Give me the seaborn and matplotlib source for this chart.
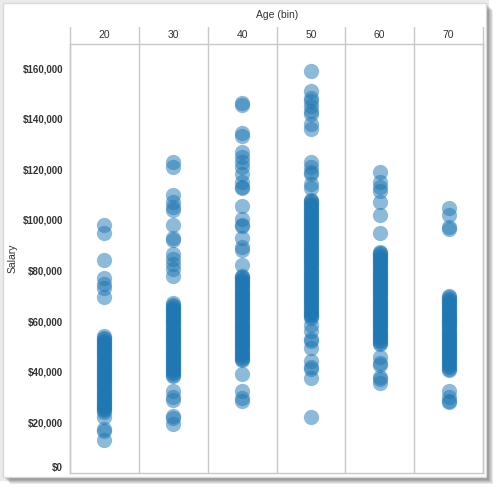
import pandas as pd
import matplotlib.pyplot as plt
import matplotlib.transforms as mtransforms
from matplotlib.patches import Rectangle
from matplotlib.ticker import FuncFormatter
import seaborn as sns

# === Datos (salario en miles de $) ===
age_bins = ["20", "30", "40", "50", "60", "70"]

salary_20 = [98, 95, 84, 77, 74.5, 73, 69.5,
             54.1, 53.5, 52.9, 52.2, 51.7, 51.0, 50.5, 49.8, 49.3, 48.6, 48.1, 47.4,
             46.9, 46.2, 45.7, 45.0, 44.4, 43.9, 43.2, 42.7, 42.0, 41.5, 40.8, 40.3,
             39.6, 39.1, 38.4, 37.9, 37.2, 36.7, 36.0, 35.4, 34.9, 34.2, 33.7, 33.0,
             32.5, 31.8, 31.3, 30.6, 30.1, 29.4, 28.9, 28.2, 27.7, 27.0, 26.4, 25.9,
             25.2, 24.7, 24.0,
             22, 17.5, 16.5, 13]
salary_30 = [122.7, 121, 110, 107, 105, 104, 98, 93, 92, 86.7, 84.5, 82.5, 80.5, 78,
             67.0, 66.4, 65.9, 65.2, 64.7, 64.0, 63.5, 62.8, 62.3, 61.6, 61.1, 60.4,
             59.9, 59.2, 58.7, 58.0, 57.4, 56.9, 56.2, 55.7, 55.0, 54.5, 53.8, 53.3,
             52.6, 52.1, 51.4, 50.9, 50.2, 49.7, 49.0, 48.4, 47.9, 47.2, 46.7, 46.0,
             45.5, 44.8, 44.3, 43.6, 43.1, 42.4, 41.9, 41.2, 40.7, 40.0, 39.4, 38.9,
             38.2,
             32.5, 30, 29, 22.7, 21.8, 19.2]
salary_40 = [146, 145.5, 134.5, 133, 127, 125, 122.7, 120.8, 118, 115, 113, 112.5,
             105.5, 100.4, 98, 97.5, 93, 89.4, 88, 82,
             78.0, 77.4, 76.9, 76.2, 75.7, 75.0, 74.5, 73.8, 73.3, 72.6, 72.1, 71.4,
             70.9, 70.2, 69.7, 69.0, 68.4, 67.9, 67.2, 66.7, 66.0, 65.5, 64.8, 64.3,
             63.6, 63.1, 62.4, 61.9, 61.2, 60.7, 60.0, 59.4, 58.9, 58.2, 57.7, 57.0,
             56.5, 55.8, 55.3, 54.6, 54.1, 53.4, 52.9, 52.2, 51.7, 51.0, 50.4, 49.9,
             49.2, 48.7, 48.0, 47.5, 46.8, 46.3, 45.6, 45.1, 44.5,
             39, 32.5, 29.8, 28.6]
salary_50 = [158.8, 151, 148, 147, 145, 143, 142, 138, 136, 123, 121, 119, 118, 114, 112.5,
             108.0, 107.4, 106.9, 106.2, 105.7, 105.0, 104.5, 103.8, 103.3, 102.6,
             102.1, 101.4, 100.9, 100.2, 99.7, 99.0, 98.4, 97.9, 97.2, 96.7, 96.0,
             95.5, 94.8, 94.3, 93.6, 93.1, 92.4, 91.9, 91.2, 90.7, 90.0, 89.4, 88.9,
             88.2, 87.7, 87.0, 86.5, 85.8, 85.3, 84.6, 84.1, 83.4, 82.9, 82.2, 81.7,
             81.0, 80.4, 79.9, 79.2, 78.7, 78.0, 77.5, 76.8, 76.3, 75.6, 75.1, 74.4,
             73.9, 73.2, 72.7, 72.0, 71.4, 70.9, 70.2, 69.7, 69.0, 68.5, 67.8, 67.3,
             66.6, 66.1, 65.4, 64.9, 64.2, 63.7, 63.0, 62.4, 61.9, 61.2,
             58.4, 56, 53, 52, 49.4, 44.3, 42, 41.2, 37.6, 22]
salary_60 = [119, 115, 113, 111.5, 107, 102, 95,
             87.5, 86.9, 86.4, 85.7, 85.2, 84.5, 84.0, 83.3, 82.8, 82.1, 81.6, 80.9,
             80.4, 79.7, 79.2, 78.5, 77.9, 77.4, 76.7, 76.2, 75.5, 75.0, 74.3, 73.8,
             73.1, 72.6, 71.9, 71.4, 70.7, 70.2, 69.5, 68.9, 68.4, 67.7, 67.2, 66.5,
             66.0, 65.3, 64.8, 64.1, 63.6, 62.9, 62.4, 61.7, 61.2, 60.5, 59.9, 59.4,
             58.7, 58.2, 57.5, 57.0, 56.3, 55.8, 55.1, 54.6, 53.9, 53.4, 52.7, 52.2,
             51.5, 51.0,
             46, 43.5, 42.5, 38, 37.2, 35.7]
salary_70 = [104.7, 102, 97, 96.5,
             70.0, 69.4, 68.9, 68.2, 67.7, 67.0, 66.5, 65.8, 65.3, 64.6, 64.1, 63.4,
             62.9, 62.2, 61.7, 61.0, 60.4, 59.9, 59.2, 58.7, 58.0, 57.5, 56.8, 56.3,
             55.6, 55.1, 54.4, 53.9, 53.2, 52.7, 52.0, 51.4, 50.9, 50.2, 49.7, 49.0,
             48.5, 47.8, 47.3, 46.6, 46.1, 45.4, 44.9, 44.2, 43.7, 43.0, 42.4, 41.9,
             41.2, 40.5,
             32.5, 30, 28.6, 28]

salarios = [salary_20, salary_30, salary_40, salary_50, salary_60, salary_70]
df = pd.DataFrame({
    "Age (bin)": [b for b, vals in zip(age_bins, salarios) for _ in vals],
    "Salary": [v * 1000 for vals in salarios for v in vals],
})

# === Estilo ===
sns.set_style("white")
plt.rcParams["font.family"] = ["Liberation Sans", "DejaVu Sans"]
gris_linea = "#c8c8c8"
texto = "#333333"

fig = plt.figure(figsize=(5, 4.9), dpi=100)
fig.patch.set_facecolor("white")

# marco tipo captura: fondo gris claro, sombra y panel blanco
fig.add_artist(Rectangle((0, 1 - 480 / 490), 488 / 500, 480 / 490,
                         transform=fig.transFigure, color="#ebebeb", zorder=0))
for k in range(1, 8):
    fig.add_artist(Rectangle(((3 + k) / 500, (13 - k) / 490), 483 / 500, 474 / 490,
                             transform=fig.transFigure, color="#555555",
                             alpha=0.13, lw=0, zorder=0))
fig.add_artist(Rectangle((3 / 500, 13 / 490), 483 / 500, 474 / 490,
                         transform=fig.transFigure, facecolor="white",
                         edgecolor="#d9d9d9", lw=1, zorder=0))

ax = fig.add_axes([70 / 500, 1 - 473 / 490, 413 / 500, 429 / 490])
ax.set_facecolor("none")

sns.stripplot(data=df, x="Age (bin)", y="Salary", order=age_bins, jitter=False,
              size=11, color="#1f77b4", alpha=0.5, linewidth=0, ax=ax)

ax.set_xlim(-0.5, 5.5)
ax.set_ylim(0, 169500)
ax.set_xticks([])
ax.set_xlabel("")
ax.set_ylabel("")

ax.set_yticks(range(0, 160001, 20000))
ax.yaxis.set_major_formatter(FuncFormatter(lambda v, p: f"${v:,.0f}"))
ax.tick_params(axis="y", length=3, width=0.8, color=gris_linea, pad=2,
               labelsize=7, labelcolor=texto)
for lab in ax.get_yticklabels():
    lab.set_fontweight("bold")
ax.get_yticklabels()[0].set_va("bottom")

for s in ax.spines.values():
    s.set_color(gris_linea)
    s.set_linewidth(1)

# separadores de columnas que suben hasta la cabecera
trans = mtransforms.blended_transform_factory(ax.transData, ax.transAxes)
for e in [i - 0.5 for i in range(len(age_bins) + 1)]:
    ax.plot([e, e], [0, 1 + 17 / 429], transform=trans, color=gris_linea,
            lw=1, clip_on=False)
for i, b in enumerate(age_bins):
    ax.text(i, 1 + 9 / 429, b, transform=trans, ha="center", va="center",
            fontsize=7.5, color=texto)

fig.text(277 / 500, 1 - 15 / 490, "Age (bin)", ha="center", va="center",
         fontsize=7.5, color=texto)
fig.text(13 / 500, 1 - 258 / 490, "Salary", ha="center", va="center",
         rotation=90, fontsize=7.5, color=texto)

plt.savefig("out.png", dpi=100)
plt.close()
